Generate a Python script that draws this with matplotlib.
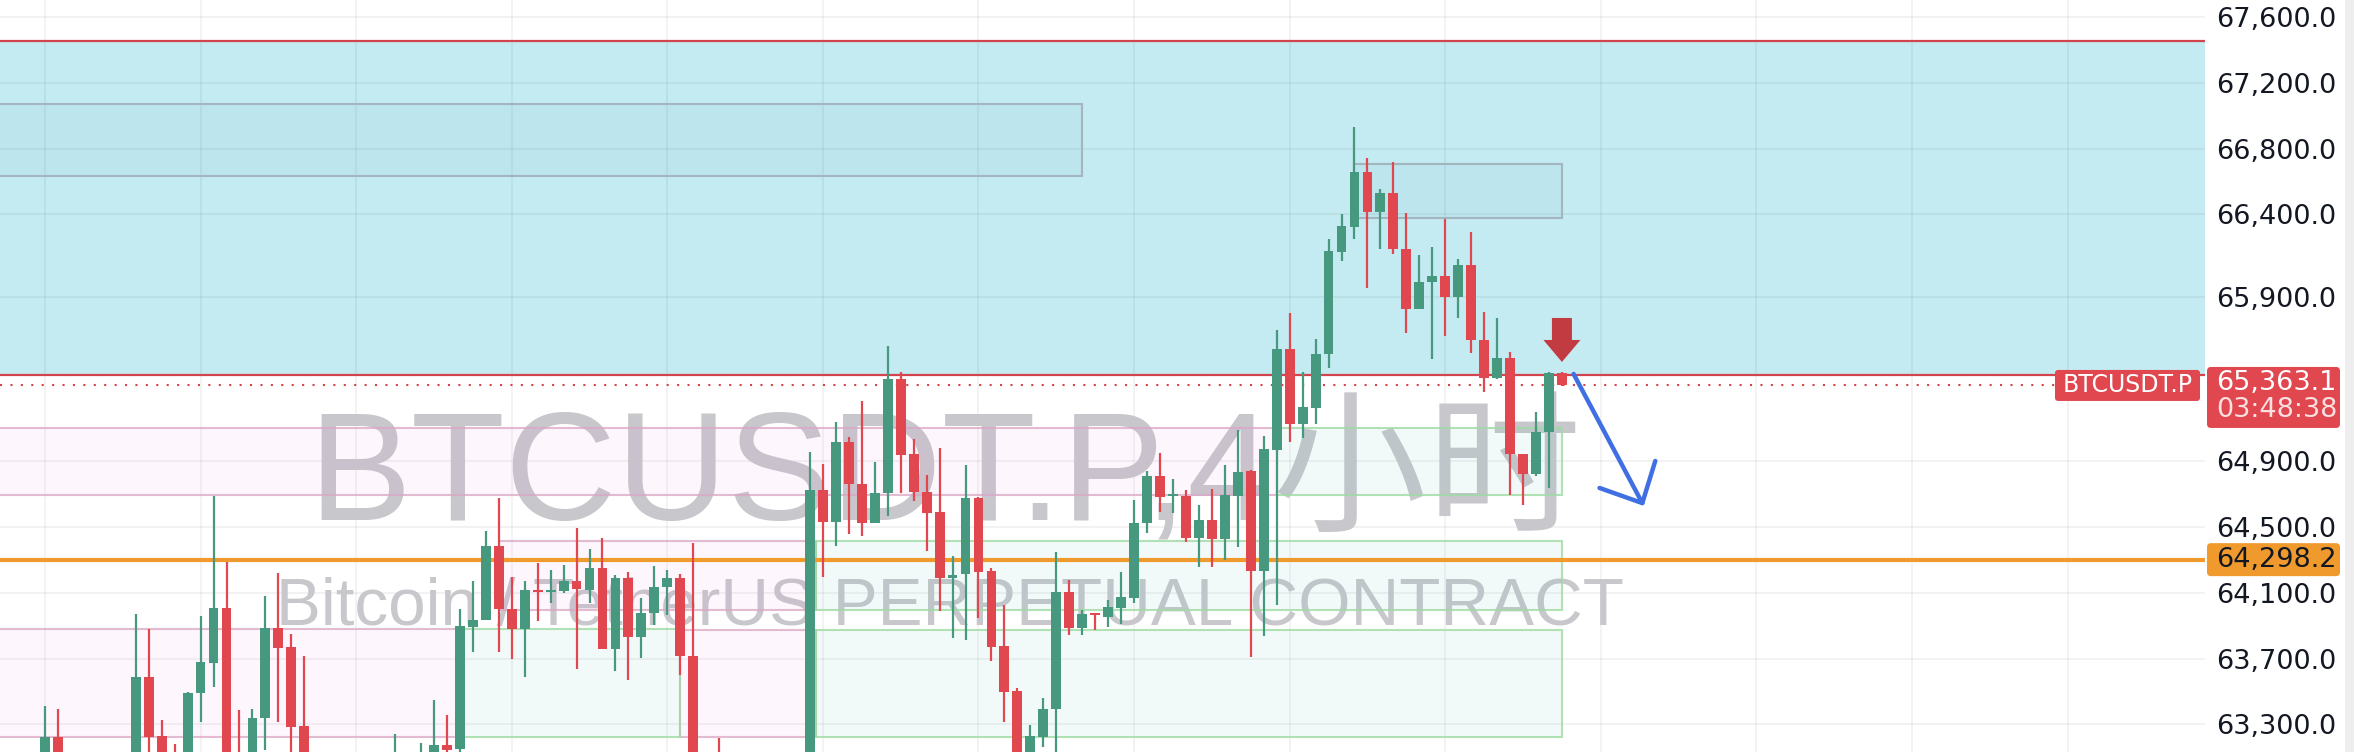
import matplotlib
matplotlib.use("Agg")
import matplotlib.pyplot as plt
import matplotlib.transforms as mtransforms
from matplotlib.patches import Rectangle, Polygon, FancyBboxPatch
import numpy as np

# 4h свечи BTCUSDT.P (цены)
opens = [62992, 63223, 62992, 62809, 62901, 63022, 62840, 62961, 63588, 63229,
         63083, 62961, 63490, 63673, 64007, 63053, 62961, 63338, 63885, 63770,
         63290, 62840, 62992, 62840, 62961, 63034, 62901, 62931, 63053, 62961,
         62992, 63174, 63150, 63892, 63934, 64384, 64001, 63879, 64116, 64104,
         64110, 64171, 64116, 64250, 63758, 64189, 63831, 63977, 64135, 64189,
         63715, 62901, 63022, 62749, 62870, 62779, 62901, 62992, 62870, 62931,
         64724, 64530, 65016, 64761, 64524, 64706, 65399, 64943, 64712, 64591,
         64189, 64214, 64676, 64232, 63776, 63502, 62931, 63223, 63393, 64104,
         63885, 63977, 63952, 64007, 64068, 64524, 64809, 64688, 64688, 64432,
         64542, 64426, 64688, 64840, 64232, 64967, 65581, 65126, 65223, 65551,
         66171, 66323, 66657, 66414, 66530, 66189, 65825, 65989, 66025, 65898,
         66092, 65636, 65405, 65527, 64943, 64822, 65077, 65435]
highs = [63411, 63393, 63053, 62974, 63071, 63053, 63034, 63971, 63879, 63326,
         63180, 63495, 63958, 64688, 64287, 63387, 63393, 64080, 64220, 63849,
         63715, 63053, 63034, 63010, 63071, 63083, 63053, 63241, 63083, 63186,
         63448, 63357, 64001, 64171, 64475, 64676, 64195, 64171, 64281, 64238,
         64268, 64493, 64366, 64432, 64208, 64226, 64068, 64262, 64238, 64214,
         64402, 62961, 63217, 62931, 62931, 62961, 63034, 63053, 63010, 64955,
         64882, 65138, 65047, 65265, 64895, 65600, 65442, 65034, 64816, 64980,
         64323, 64876, 64682, 64250, 64025, 63521, 63296, 63460, 64347, 64177,
         63995, 63977, 64056, 64226, 64664, 64840, 64949, 64791, 64724, 64633,
         64730, 64876, 65089, 64846, 65053, 65697, 65800, 65442, 65642, 66250,
         66402, 66931, 66742, 66554, 66718, 66408, 66153, 66201, 66372, 66128,
         66293, 65806, 65770, 65563, 64943, 65198, 65442, 65442]
lows = [62901, 62840, 62779, 62767, 62870, 62870, 62809, 62901, 63022, 62931,
        62901, 62901, 63314, 63527, 62931, 62840, 62901, 63144, 63314, 63022,
        62840, 62779, 62809, 62791, 62901, 62870, 62852, 62870, 62888, 62901,
        62931, 63083, 63132, 63740, 63934, 63740, 63697, 63588, 63928, 64037,
        64098, 63636, 64037, 63758, 63624, 63569, 63703, 63904, 63964, 63600,
        62840, 62658, 62749, 62688, 62718, 62749, 62840, 62852, 62809, 62901,
        64195, 64384, 64457, 64445, 64524, 64566, 64706, 64657, 64354, 63989,
        63825, 63812, 63946, 63685, 63314, 62901, 62840, 63162, 63083, 63843,
        63843, 63873, 63892, 63910, 64037, 64463, 64591, 64585, 64408, 64256,
        64256, 64299, 64378, 63709, 63837, 64025, 65016, 65040, 65126, 65466,
        66116, 66250, 65952, 66189, 66159, 65679, 65825, 65521, 65660, 65770,
        65557, 65320, 65399, 64694, 64633, 64810, 64736, 65357]
closes = [63223, 63022, 62840, 62931, 63022, 62931, 62992, 63588, 63223, 62992,
          62961, 63490, 63679, 64007, 62992, 62901, 63338, 63885, 63764, 63284,
          62901, 62992, 62870, 62961, 63034, 62931, 63010, 63053, 62931, 63083,
          63174, 63144, 63898, 63934, 64384, 64001, 63879, 64116, 64104, 64116,
          64171, 64122, 64250, 63758, 64189, 63831, 63977, 64135, 64189, 63715,
          62901, 62718, 62840, 62870, 62779, 62901, 62992, 62901, 62961, 64724,
          64530, 65016, 64761, 64524, 64706, 65399, 64937, 64712, 64585, 64189,
          64208, 64676, 64226, 63770, 63496, 62961, 63229, 63393, 64104, 63885,
          63970, 63964, 64013, 64074, 64524, 64809, 64682, 64700, 64432, 64542,
          64426, 64694, 64834, 64232, 64974, 65581, 65126, 65229, 65551, 66177,
          66329, 66657, 66414, 66530, 66189, 65825, 65989, 66025, 65898, 66092,
          65636, 65405, 65527, 64943, 64822, 65077, 65435, 65363.1]

# шкала цен
tick_vals = [67600, 67200, 66800, 66400, 65900, 64900, 64500, 64100, 63700, 63300]
tick_labels = [f"{v:,.1f}" for v in tick_vals]

# зоны и уровни
zone_top, zone_bottom = 67454, 65423
orange_level = 64298.2
symbol = "BTCUSDT.P"
timer_text = "03:48:38"
# (x0, x1, низ, верх) в индексах свечей
gray_boxes = [(-6, 80, 66633, 67071), (101, 117, 66378, 66706)]
pink_boxes = [(-6, 95, 64694, 65101), (-6, 32, 63223, 63879),
              (35, 59.5, 63995, 64414), (49, 59.5, 63223, 63873)]
mint_boxes = [(95, 117, 64694, 65101), (32, 49, 63223, 63879),
              (59.5, 117, 63995, 64414), (59.5, 117, 63223, 63873)]
# синяя стрелка прогноза
proj_x = [117.9, 123.2]
proj_y = [65430, 64645]
head_x = [119.9, 123.2, 124.2]
head_y = [64737, 64645, 64901]

GREEN = "#46987f"
RED = "#e0474f"
FS = 19.5

fig = plt.figure(figsize=(23.54, 7.52), dpi=100)
fig.patch.set_facecolor("white")
ax = fig.add_axes([0, 0, 2205 / 2354, 1])
ax.set_xlim(-3.47, 166.6)
ax.set_ylim(63132, 67703)
for s in ax.spines.values():
    s.set_visible(False)

# зона сопротивления
ax.axhspan(zone_bottom, zone_top, color="#c4ebf1", zorder=0.5, lw=0)
ax.axhline(zone_top, color="#d2454c", lw=1.6, zorder=2.5)
ax.axhline(zone_bottom, color="#d2454c", lw=1.6, zorder=2.5)

# сетка
for v in tick_vals:
    ax.axhline(v, color="k", alpha=0.055, lw=1.3, zorder=1)
for xv in range(0, 170, 12):
    ax.axvline(xv, color="k", alpha=0.05, lw=1.3, zorder=1)

# водяной знак
ax.text(0.4286, 0.364, "BTCUSDT.P,4小时", transform=ax.transAxes, ha="center",
        va="center", fontsize=111, color="#c7c7cc", zorder=1.5,
        family=["Liberation Sans", "Noto Sans CJK SC"])
ax.text(0.431, 0.191, "Bitcoin / TetherUS PERPETUAL CONTRACT", transform=ax.transAxes,
        ha="center", va="center", fontsize=48.5, color="#c7c7cc", zorder=1.5,
        family=["Liberation Sans", "Noto Sans CJK SC"])

for x0, x1, y0, y1 in gray_boxes:
    ax.add_patch(Rectangle((x0, y0), x1 - x0, y1 - y0, fc=(0.55, 0.75, 0.88, 0.12),
                           ec="#a3b6bf", lw=1.5, zorder=2))
for x0, x1, y0, y1 in pink_boxes:
    ax.add_patch(Rectangle((x0, y0), x1 - x0, y1 - y0, fc=(0.9, 0.55, 0.85, 0.07),
                           ec=(0.86, 0.65, 0.77, 0.75), lw=1.5, zorder=2))
for x0, x1, y0, y1 in mint_boxes:
    ax.add_patch(Rectangle((x0, y0), x1 - x0, y1 - y0, fc=(0.3, 0.75, 0.7, 0.07),
                           ec=(0.62, 0.86, 0.64, 0.8), lw=1.5, zorder=2))

# свечи
o = np.array(opens, float)
h = np.array(highs, float)
l = np.array(lows, float)
c = np.array(closes, float)
x = np.arange(len(o))
colors = [GREEN if cc >= oo else RED for oo, cc in zip(o, c)]
body_lo = np.minimum(o, c)
body_h = np.maximum(np.abs(c - o), 10)
ax.vlines(x, l, h, colors=colors, lw=1.6, zorder=3)
ax.bar(x, body_h, bottom=body_lo, width=0.76, color=colors, lw=0, zorder=3.1)

# уровни
ax.axhline(orange_level, color="#f09a2e", lw=3, zorder=2.6)
ax.axhline(c[-1], color="#d2454c", lw=1.5, ls=(0, (1, 4)), zorder=2.6)

# синяя стрелка
ax.plot(proj_x, proj_y, color="#3f6fe2", lw=3.2, solid_capstyle="round", zorder=4)
ax.plot(head_x, head_y, color="#3f6fe2", lw=3.2, solid_capstyle="round",
        solid_joinstyle="round", zorder=4)

# ось цен справа
ax.yaxis.tick_right()
ax.set_yticks(tick_vals)
ax.set_yticklabels(tick_labels)
ax.tick_params(axis="y", length=0, pad=8, labelsize=FS, labelcolor="#131722")
ax.set_xticks([])

fig.canvas.draw()

def ypx(p):
    return ax.transData.transform((0, p))[1]

# красная стрелка над последней свечой
tx, ty = ax.transData.transform((x[-1], h[-1]))
ty += 10
arrow = [(0, 0), (-18.5, 22), (-10, 22), (-10, 44), (10, 44), (10, 22), (18.5, 22)]
fig.add_artist(Polygon([(tx + a, ty + b) for a, b in arrow], closed=True,
                       fc="#c23b41", ec="none", transform=mtransforms.IdentityTransform(),
                       zorder=5))

# метки цены
lx = 2216 / 2354
yc = ypx(c[-1])
fig.add_artist(FancyBboxPatch((2207, yc - 43), 133, 61, boxstyle="round,pad=0,rounding_size=4",
                              fc="#e0474f", ec="none", transform=mtransforms.IdentityTransform(),
                              zorder=6))
fig.text(lx, (yc + 2) / 752, f"{c[-1]:,.1f}", ha="left", va="center",
         fontsize=FS, color="white", zorder=7)
fig.text(lx, (yc - 25) / 752, timer_text, ha="left", va="center",
         fontsize=FS, color="#fbe0e2", zorder=7)

fig.add_artist(FancyBboxPatch((2055, yc - 16), 145, 31, boxstyle="round,pad=0,rounding_size=3",
                              fc="#e0474f", ec="none", transform=mtransforms.IdentityTransform(),
                              zorder=6))
fig.text(2128 / 2354, (yc - 0.5) / 752, symbol, ha="center", va="center",
         fontsize=17, color="white", zorder=7)

yo = ypx(orange_level)
fig.add_artist(FancyBboxPatch((2207, yo - 16), 133, 33, boxstyle="round,pad=0,rounding_size=4",
                              fc="#f09a2e", ec="none", transform=mtransforms.IdentityTransform(),
                              zorder=6))
fig.text(lx, yo / 752, f"{orange_level:,.1f}", ha="left", va="center",
         fontsize=FS, color="#131722", zorder=7)

# серая полоса справа
fig.add_artist(Rectangle((2345 / 2354, 0), 9 / 2354, 1, transform=fig.transFigure,
                         fc="#eeeeee", ec="none", zorder=6))

fig.savefig("out.png", dpi=100)
